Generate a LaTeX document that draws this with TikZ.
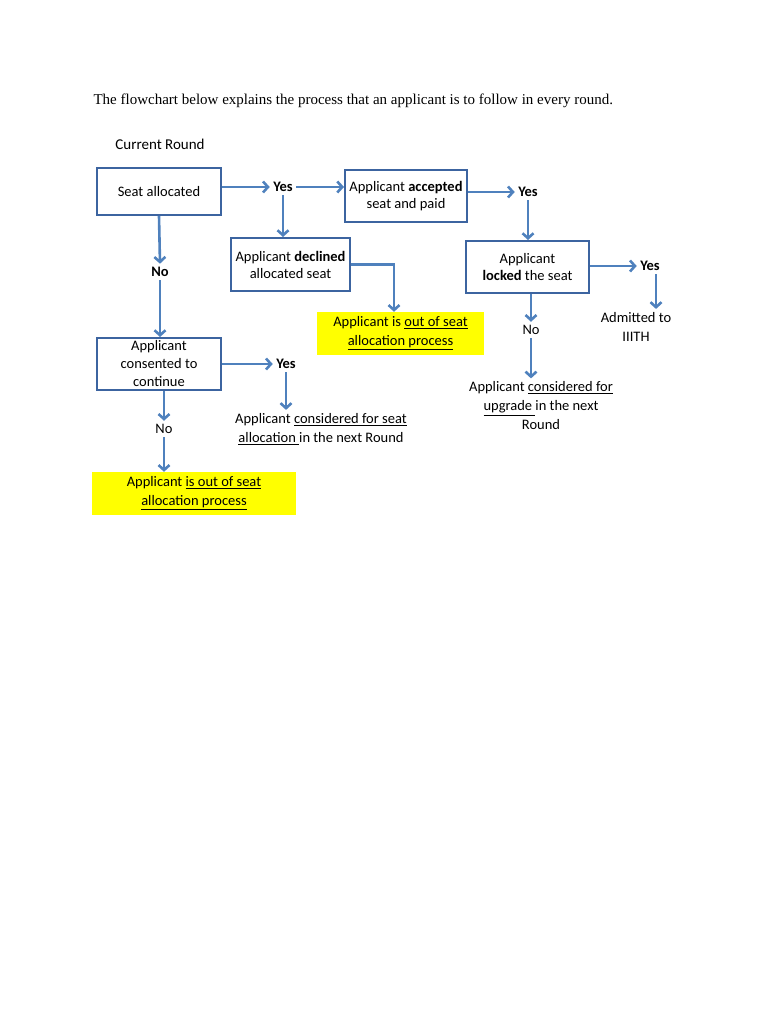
\documentclass[tikz,border=0pt]{standalone}
\usepackage{fontspec}
\setmainfont{Carlito}
\newfontfamily\serif{Liberation Serif}
\usetikzlibrary{arrows.meta}
\definecolor{bl}{HTML}{4F81BD}
\definecolor{bd}{HTML}{3C64A0}
\definecolor{yl}{HTML}{FFFF00}
\begin{document}
\begin{tikzpicture}[x=1pt,y=-1pt,
 box/.style={draw=bd,line width=2pt,minimum width=#1,align=center,inner sep=1pt,font=\fontsize{14.5}{17}\selectfont},
 box/.default=124pt,
 ybox/.style={fill=yl,align=center,font=\fontsize{14.5}{19}\selectfont},
 lab/.style={font=\fontsize{14.5}{17}\selectfont\bfseries},
 txt/.style={align=center,font=\fontsize{14.5}{19}\selectfont},
 arr/.style={draw=bl,line width=2.6pt,-{Straight Barb[length=5pt,width=11pt]}}]
\useasboundingbox (0,0) rectangle (768,1024);
\node[font=\serif\fontsize{15}{17}\selectfont,anchor=west] (title) at (90,101) {The flowchart below explains the process that an applicant is to follow in every round.};
\node[font=\fontsize{15}{17}\selectfont] (cr) at (160,144) {Current Round};
\node[box,minimum height=47pt] (seat) at (159,191.5) {Seat allocated};
\node[lab] (y1) at (283,187) {Yes};
\node[box=122pt,minimum height=52pt] (acc) at (406,196) {Applicant \textbf{accepted}\\seat and paid};
\node[lab] (y2) at (528,192) {Yes};
\node[box=119pt,minimum height=53pt] (dec) at (290.5,264.5) {Applicant \textbf{declined}\\allocated seat};
\node[ybox,minimum width=167pt,minimum height=43pt] (out1) at (400.5,333.5) {Applicant is \underline{out of seat}\\\underline{allocation process}};
\node[box=123pt,minimum height=52pt] (lock) at (527.5,267) {Applicant\\\textbf{locked} the seat};
\node[lab] (y3) at (650,266) {Yes};
\node[txt] (adm) at (636,327) {Admitted to\\IIITH};
\node[font=\fontsize{14.5}{17}\selectfont] (n3) at (531,330) {No};
\node[txt] (upg) at (541,406) {Applicant \underline{considered for}\\\underline{upgrade }in the next\\Round};
\node[lab] (n1) at (160,272) {No};
\node[box,minimum height=52pt,font=\fontsize{14.5}{18}\selectfont] (cons) at (159,364) {Applicant\\consented to\\continue};
\node[lab] (y4) at (286,364) {Yes};
\node[txt] (nxt) at (321,429) {Applicant \underline{considered for seat}\\\underline{allocation }in the next Round};
\node[font=\fontsize{14.5}{17}\selectfont] (n2) at (164,429) {No};
\node[ybox,minimum width=204pt,minimum height=43pt] (out2) at (194,493.5) {Applicant \underline{is out of seat}\\\underline{allocation process}};
\draw[arr] (seat.east|-y1.west) -- (y1.west);
\draw[arr] (y1.east) -- (acc.west|-y1.east);
\draw[arr] (acc.east|-y2.west) -- (y2.west);
\draw[arr] (y1.south) -- (y1.south|-dec.north);
\draw[arr] (dec.east) -| (out1.north-|394,0);
\draw[arr] (y2.south) -- (y2.south|-lock.north);
\draw[arr] (lock.east|-y3.west) -- (y3.west);
\draw[arr] (y3.south-|656,0) -- (adm.north-|656,0);
\draw[arr] (lock.south-|n3.north) -- (n3.north);
\draw[arr] (n3.south) -- (upg.north-|n3.south);
\draw[arr] (seat.south) -- (n1.north);
\draw[arr] (n1.south) -- (n1.south|-cons.north);
\draw[arr] (cons.east) -- (y4.west);
\draw[arr] (y4.south) -- (nxt.north-|y4.south);
\draw[arr] (cons.south-|n2.north) -- (n2.north);
\draw[arr] (n2.south) -- (out2.north-|n2.south);
\end{tikzpicture}
\end{document}
